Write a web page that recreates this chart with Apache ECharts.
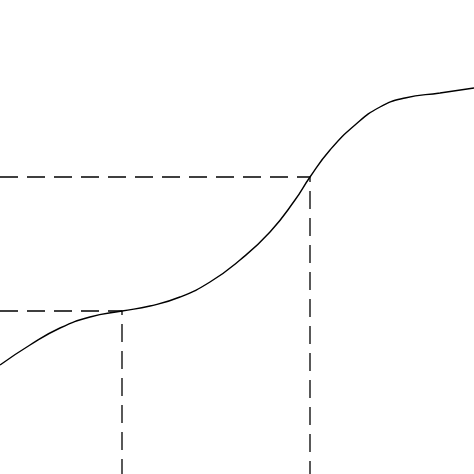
<!DOCTYPE html>
<html><head><meta charset="utf-8">
<script src="https://cdn.jsdelivr.net/npm/echarts@6/dist/echarts.min.js"></script>
<style>html,body{margin:0;padding:0;background:#fff}#c{width:474px;height:474px}</style>
</head><body><div id="c"></div>
<script>
const curveX = [0,30,60,90,122,150,180,210,240,270,295,310,330,355,380,405,440,474];
const curveY = [109,129,146,157,163,168,177,192,214,242,274,297,324,349,367,376,381,386];
const markA = [122,163];
const markB = [310,297];
const chart = echarts.init(document.getElementById('c'));
const dash = {color:'#000',width:1.3,type:[18,9]};
chart.setOption({
  animation:false,
  grid:{left:0,right:0,top:0,bottom:0},
  xAxis:{type:'value',min:0,max:474,show:false},
  yAxis:{type:'value',min:0,max:474,show:false},
  series:[
    {type:'line',smooth:true,symbol:'none',data:curveX.map((x,i)=>[x,curveY[i]]),lineStyle:{color:'#000',width:1.4}},
    {type:'line',symbol:'none',data:[[0,markA[1]],markA,[markA[0],0]],lineStyle:dash},
    {type:'line',symbol:'none',data:[[0,markB[1]],markB,[markB[0],0]],lineStyle:dash}
  ]
});
</script></body></html>
